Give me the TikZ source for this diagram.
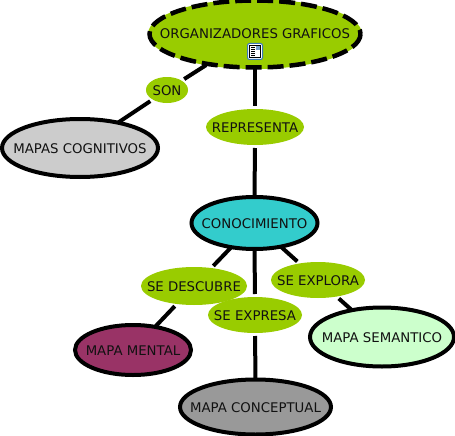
\documentclass[tikz,border=0pt]{standalone}
\usepackage{fontspec}
\setmainfont{DejaVu Sans}
\usetikzlibrary{shapes.geometric}
\definecolor{lblgreen}{HTML}{99CC00}
\definecolor{conocyan}{HTML}{33CCCC}
\definecolor{cogray}{HTML}{CCCCCC}
\definecolor{mentalc}{HTML}{993366}
\definecolor{semc}{HTML}{CCFFCC}
\definecolor{concc}{HTML}{999999}
\definecolor{inkc}{HTML}{111111}
\definecolor{iconblue}{HTML}{3A78B8}
\newcommand{\lab}[1]{\makebox[0pt]{\raisebox{-5.7pt}[0pt][0pt]{#1}}}
\tikzset{
  x=1pt,y=-1pt,
  ell/.style={ellipse,inner sep=0pt,outer sep=0pt,text=inkc,font=\fontsize{13.3}{15}\selectfont},
  lbl/.style={ell,fill=lblgreen},
  concept/.style={ell,draw=black,line width=4pt},
  link/.style={draw=black,line width=4pt},
  tolbl/.style={link,shorten >=3pt},
  fromlbl/.style={link,shorten <=3pt}
}
\begin{document}
\begin{tikzpicture}
\useasboundingbox (0,0) rectangle (455,436);
\fill[white] (0,0) rectangle (455,436);
\coordinate (tc) at (255,34);
\node[ell,fill=lblgreen,minimum width=214pt,minimum height=70pt] (top) at (tc) {};
\node[lbl,minimum width=42pt,minimum height=26pt] (son) at (167,90) {\lab{SON}};
\node[concept,fill=cogray,minimum width=156pt,minimum height=58pt] (cog) at (80,148) {\lab{MAPAS COGNITIVOS}};
\node[lbl,minimum width=98pt,minimum height=36pt] (rep) at (255,127) {\lab{REPRESENTA}};
\node[concept,fill=conocyan,minimum width=126pt,minimum height=52pt] (con) at (254.5,223) {\lab{CONOCIMIENTO}};
\node[lbl,minimum width=106pt,minimum height=38pt] (des) at (194,286) {\lab{SE DESCUBRE}};
\node[lbl,minimum width=94pt,minimum height=36pt] (exl) at (318,280) {\lab{SE EXPLORA}};
\node[concept,fill=semc,minimum width=144pt,minimum height=59pt] (sem) at (382,337) {\lab{MAPA SEMANTICO}};
\node[concept,fill=mentalc,minimum width=116pt,minimum height=50pt] (men) at (133,350) {\lab{MAPA MENTAL}};
\node[concept,fill=concc,minimum width=151pt,minimum height=55pt] (cnc) at (255.5,407) {\lab{MAPA CONCEPTUAL}};
\draw[tolbl] (top) -- (son);
\draw[fromlbl] (son) -- (cog);
\draw[tolbl] (top.south) -- (rep.north);
\draw[fromlbl] (rep.south) -- (con.north);
\draw[tolbl] (con) -- (des);
\draw[fromlbl] (des) -- (men);
\draw[tolbl] (con) -- (exl);
\draw[fromlbl] (exl) -- (sem);
\node[lbl,minimum width=94pt,minimum height=36pt] (exp) at (255,315) {\lab{SE EXPRESA}};
\draw[tolbl] (con.south) -- (exp.north);
\draw[fromlbl] (exp.south) -- (cnc.north);
% dashed outline and caption of the top concept
\draw[black,line width=4.5pt,dash pattern=on 16pt off 6pt] (tc) ellipse [x radius=105.5,y radius=33.5];
\node[ell,anchor=center] (toptxt) at (255,33) {\lab{ORGANIZADORES GRAFICOS}};
% document icon
\draw[fill=white,draw=iconblue,line width=1pt,rounded corners=2pt] (247.5,43.5) rectangle (262.5,59.5);
\draw[draw=black,line width=0.7pt] (249.5,45.5) rectangle (260.5,57.5);
\fill[iconblue!70!white] (255.5,46.5) rectangle (259.5,50);
\foreach \yy in {47.5,49.5,51.5,53.5,55.5}{\draw[black,line width=0.7pt] (251,\yy) -- (254.5,\yy);}
\end{tikzpicture}
\end{document}
